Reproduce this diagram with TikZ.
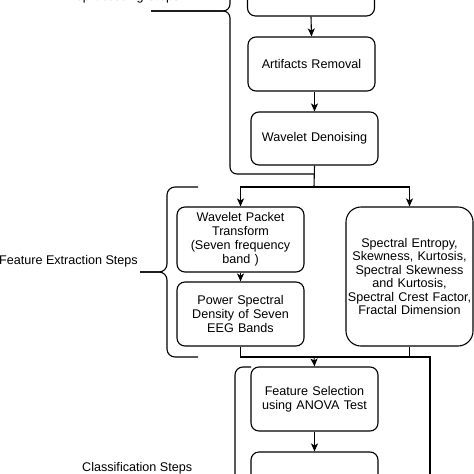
\documentclass[tikz,border=0pt]{standalone}
\usepackage{fontspec}
\setmainfont{Liberation Sans}
\usetikzlibrary{arrows.meta}

\begin{document}
\begin{tikzpicture}[x=1pt,y=-1pt,font=\fontsize{12.6}{14}\selectfont,
  stepbox/.style={draw,line width=1.1pt,rounded corners=8pt,minimum width=127pt,text width=125pt,align=center,inner sep=0pt},
  arr/.style={-{Stealth[length=8pt,width=7pt,inset=2pt]},line width=1.1pt},
  ln/.style={line width=1.1pt},
  lbl/.style={inner sep=0pt}]

\useasboundingbox (0,0) rectangle (474,474);
\clip (0,0) rectangle (474,474);

% preprocessing
\node[stepbox,minimum height=54pt] (load) at (311,-11) {};
\node[stepbox,minimum height=54pt] (art) at (311.5,64) {Artifacts Removal};
\node[stepbox,minimum height=53pt] (wd) at (314.5,138.5) {Wavelet Denoising};

% feature extraction
\node[stepbox,minimum height=65pt] (wpt) at (240.5,239.5) {Wavelet Packet\\Transform\\(Seven frequency\\band )};
\node[stepbox,minimum height=64pt] (psd) at (240.5,314) {Power Spectral\\Density of Seven\\EEG Bands};
\node[stepbox,minimum height=139pt,rounded corners=15pt,text width=127pt,font=\fontsize{12.6}{13.4}\selectfont] (spec) at (409.5,276.5) {Spectral Entropy,\\Skewness, Kurtosis,\\Spectral Skewness\\and Kurtosis,\\Spectral Crest Factor,\\Fractal Dimension};

% classification
\node[stepbox,minimum height=64pt] (fs) at (314.5,399) {Feature Selection\\using ANOVA Test};
\node[stepbox,minimum height=64pt] (cls) at (314.5,484) {};

\coordinate (split) at (314,187);
\coordinate (brend) at (314,174);
\coordinate (join) at (314,357);
\coordinate (side) at (430,357);
\coordinate (sideend) at (430,490);

\draw[arr] (load.south) -- (art.north);
\draw[arr] (wd.north |- art.south) -- (wd.north);
\draw[ln] (wd.south) -- (split);
\draw[arr] (split) -| (wpt.north);
\draw[arr] (split) -| (spec.north);
\draw[arr] (wpt.south) -- (psd.north);
\draw[ln] (psd.south) |- (side) -- (sideend);
\draw[ln] (spec.south) -- (spec.south |- join);
\draw[arr] (join) -- (fs.north);
\draw[arr] (fs.south) -- (cls.north);

% brackets
\draw[ln,rounded corners=7pt] (151,11) -- (230,11) -- (230,-60);
\draw[ln,rounded corners=7pt] (151,11) -- (230,11) -- (230,174) -- (brend);
\draw[ln,rounded corners=8pt] (140,272) -- (167,272) -- (167,187) -- (198,187);
\draw[ln,rounded corners=8pt] (140,272) -- (167,272) -- (167,357) -- (198,357);
\draw[ln,rounded corners=8pt] (251,367) -- (235,367) -- (235,520);

\node[lbl,anchor=base west] (prelbl) at (63,0.5) {Preprocessing Steps};
\node[lbl,anchor=base east] (felbl) at (138,264.5) {Feature Extraction Steps};
\node[lbl,anchor=base west] (clslbl) at (82,471.5) {Classification Steps};

\end{tikzpicture}
\end{document}
